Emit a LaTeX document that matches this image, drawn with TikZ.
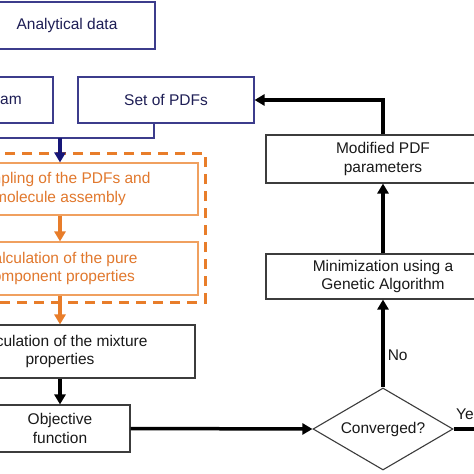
\documentclass[tikz,border=0pt]{standalone}
\usepackage{fontspec}
\setmainfont{Liberation Sans}
\usetikzlibrary{shapes.geometric,arrows.meta}
\definecolor{navyline}{RGB}{60,60,140}
\definecolor{navytext}{RGB}{30,30,85}
\definecolor{navyarrow}{RGB}{22,22,120}
\definecolor{orangemain}{RGB}{232,125,42}
\definecolor{orangelight}{RGB}{240,160,95}
\definecolor{orangetext}{RGB}{225,120,45}
\definecolor{blackline}{RGB}{60,60,60}
\definecolor{blacktext}{RGB}{25,25,25}
\tikzset{
  every node/.style={font=\fontsize{15.5}{18.5}\selectfont, inner sep=0pt, align=center},
  navybox/.style={draw=navyline, line width=1.1pt, text=navytext, rectangle},
  orangebox/.style={draw=orangelight, line width=1.1pt, text=orangetext, rectangle},
  blackbox/.style={draw=blackline, line width=1.1pt, text=blacktext, rectangle},
  thickarrow/.style={line width=3.5pt, -{Triangle[length=10pt,width=11pt]}},
  blackarrow/.style={thickarrow, draw=black},
  orangearrow/.style={thickarrow, draw=orangemain},
  navyarrowst/.style={thickarrow, draw=navyarrow},
  thinnavy/.style={draw=navyline, line width=1.1pt},
}
\begin{document}
\begin{tikzpicture}[x=1pt,y=-1pt]
\useasboundingbox (0,0) rectangle (474,474);
\fill[white] (0,0) rectangle (474,474);
\clip (0,0) rectangle (474,474);
% top row
\node[navybox, minimum width=176pt, minimum height=47pt] (anal) at (67,25.5) {Analytical data};
\node[navybox, minimum width=178pt, minimum height=46pt] (build) at (-36,100) {Building diagram};
\node[navybox, minimum width=176pt, minimum height=46pt] (pdfs) at (166,100) {Set of PDFs};
% dashed group
\node[draw=orangemain, line width=3pt, dash pattern=on 10pt off 7pt, minimum width=290pt, minimum height=149pt] (group) at (60,227.5) {};
\node[orangebox, minimum width=276pt, minimum height=52pt] (samp) at (60,189) {Sampling of the PDFs and\\molecule assembly};
\node[orangebox, minimum width=276pt, minimum height=53pt] (pure) at (60,268.5) {Calculation of the pure\\component properties};
% black column
\node[blackbox, minimum width=270pt, minimum height=53pt] (mix) at (60,351.5) {Calculation of the mixture\\properties};
\node[blackbox, minimum width=140pt, minimum height=47pt] (obj) at (60,428.5) {Objective\\function};
\node[blackbox, diamond, aspect=1.7, minimum width=140pt, minimum height=82pt, text=blacktext] (conv) at (383,429) {Converged?};
\node[blackbox, minimum width=234pt, minimum height=45pt] (ga) at (383,276.5) {Minimization using a\\Genetic Algorithm};
\node[blackbox, minimum width=234pt, minimum height=48pt] (mod) at (383,159) {Modified PDF\\parameters};
% connectors
\coordinate (join) at (60,138);
\coordinate (pdfdrop) at (154,123);
\draw[thinnavy] (pdfdrop) -- (154,138) -| (build.south);
\draw[navyarrowst] (join) -- (samp.north);
\draw[orangearrow] (samp.south) -- (pure.north);
\draw[orangearrow] (pure.south) -- (mix.north);
\draw[blackarrow] (mix.south) -- (obj.north);
\draw[blackarrow] (obj.east) -- (conv.west);
\draw[blackarrow] (conv.north) -- node[right=3pt, pos=0.37, text=blacktext] (nolab) {No} (ga.south);
\draw[blackarrow] (ga.north) -- (mod.south);
\draw[blackarrow] (mod.north) |- (pdfs.east);
\coordinate (yesend) at (490,429);
\draw[line width=3.5pt] (conv.east) -- (yesend);
\node[anchor=base west, text=blacktext] (yeslab) at (456,419) {Yes};
\end{tikzpicture}
\end{document}
